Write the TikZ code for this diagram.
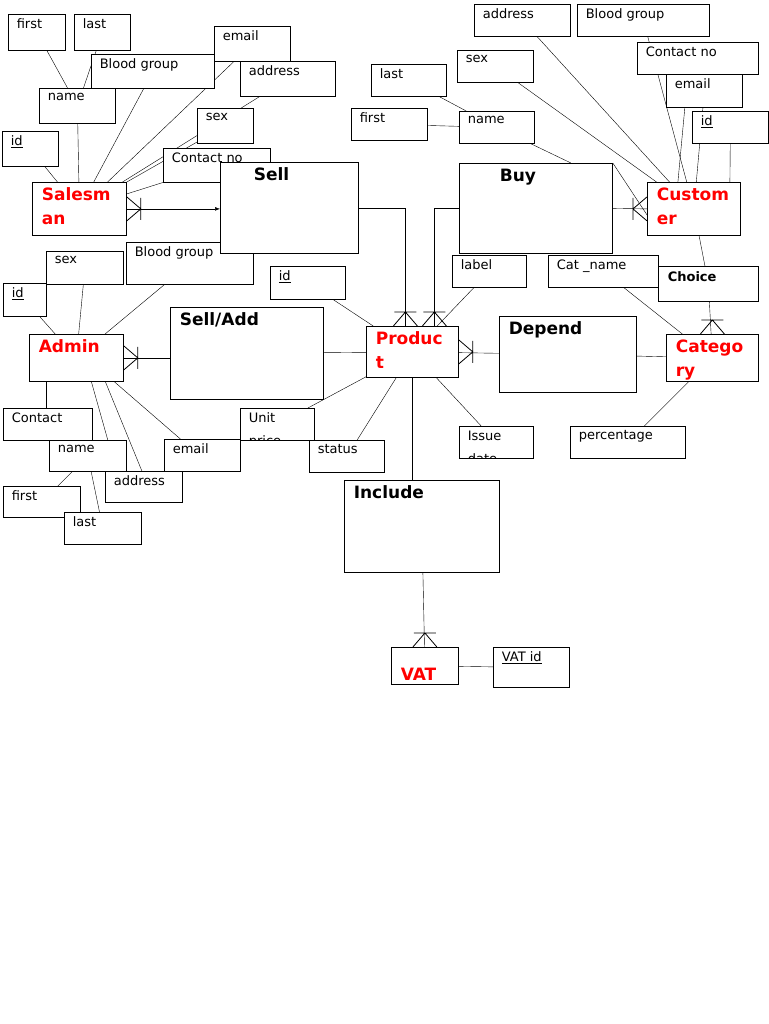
\documentclass[tikz,border=0pt]{standalone}
\usepackage{fontspec}
\setmainfont{DejaVu Sans}
\usetikzlibrary{arrows.meta,positioning,calc,backgrounds}

\newcommand{\crowfoot}[2]{%
  \draw[line width=0.8pt, shift={(#1)}, rotate=#2] (0,-12) -- (14,0) -- (0,12) (14,-11) -- (14,11);}

\begin{document}
\begin{tikzpicture}[
  x=1pt, y=-1pt,
  box/.style={draw, fill=white, anchor=north west, inner sep=0pt, line width=0.8pt},
  intext/.style={anchor=north west, inner sep=0pt, minimum width=0pt, minimum height=0pt,
    draw=none, fill=none, align=left},
  attr/.style={box, path picture={\node[intext, font=\fontsize{13}{23}\selectfont]
      at ([xshift=8pt,yshift=-4pt]path picture bounding box.north west) {#1};}},
  ent/.style={box, path picture={\node[intext, text=red, font=\fontsize{17}{24}\selectfont\bfseries]
      at ([xshift=9pt,yshift=-5pt]path picture bounding box.north west) {#1};}},
  rel/.style={box, path picture={\node[intext, font=\fontsize{17}{20}\selectfont\bfseries]
      at ([xshift=9pt,yshift=-5pt]path picture bounding box.north west) {#1};}},
  line/.style={line width=0.8pt}
]
\useasboundingbox (0,0) rectangle (768,1024);

% Salesman and attributes
\node[attr=first, minimum width=57, minimum height=36] (sfirst) at (8,14) {};
\node[attr=last, minimum width=56, minimum height=36] (slast) at (74,14) {};
\node[attr=email, minimum width=76, minimum height=35] (semail) at (214,26) {};
\node[attr=Blood group, minimum width=123, minimum height=34] (sblood) at (91,54) {};
\node[attr=address, minimum width=95, minimum height=35] (saddr) at (240,61) {};
\node[attr=name, minimum width=76, minimum height=35] (sname) at (39,88) {};
\node[attr=sex, minimum width=56, minimum height=35] (ssex) at (197,108) {};
\node[attr=\underline{id}, minimum width=56, minimum height=35] (sid) at (2,131) {};
\node[attr=Contact no, minimum width=107, minimum height=34] (scontact) at (163,148) {};
\node[ent={Salesm\\an}, minimum width=94, minimum height=53] (sal) at (32,182) {};

% Admin and attributes
\node[attr=sex, minimum width=77, minimum height=33] (asex) at (46,251) {};
\node[attr=Blood group, minimum width=127, minimum height=42] (ablood) at (126,242) {};
\node[rel={\hspace{24pt}Sell}, minimum width=138, minimum height=91] (sell) at (220,162) {};
\node[attr=\underline{id}, minimum width=43, minimum height=33] (aid) at (3,283) {};
\node[ent=Admin, minimum width=94, minimum height=47] (adm) at (29,334) {};
\node[rel=Sell/Add, minimum width=153, minimum height=92] (selladd) at (170,307) {};
\node[attr=Contact, minimum width=89, minimum height=32] (acontact) at (3,408) {};
\node[attr=name, minimum width=77, minimum height=31] (aname) at (49,440) {};
\node[attr=email, minimum width=76, minimum height=32] (aemail) at (164,439) {};
\node[attr={Unit\\price}, minimum width=74, minimum height=32] (unit) at (240,408) {};
\node[attr=status, minimum width=75, minimum height=32] (status) at (309,440) {};
\node[attr=address, minimum width=77, minimum height=31] (aaddr) at (105,471) {};
\node[attr=first, minimum width=77, minimum height=31] (afirst) at (3,486) {};
\node[attr=last, minimum width=77, minimum height=32] (alast) at (64,512) {};

% Product
\node[attr=\underline{id}, minimum width=75, minimum height=33] (pid) at (270,266) {};
\node[ent={Produc\\t}, minimum width=92, minimum height=51] (prod) at (366,326) {};
\node[attr=label, minimum width=74, minimum height=32] (plabel) at (452,255) {};
\node[attr={Issue\\date}, minimum width=74, minimum height=32] (issue) at (459,426) {};
\node[rel=Include, minimum width=155, minimum height=92] (incl) at (344,480) {};
\node[ent={\\[4pt]VAT}, minimum width=67, minimum height=37] (vat) at (391,647) {};
\node[attr=\underline{VAT id}, minimum width=76, minimum height=40] (vatid) at (493,647) {};

% Customer and attributes
\node[attr=address, minimum width=96, minimum height=32] (caddr) at (474,4) {};
\node[attr=Blood group, minimum width=132, minimum height=32] (cblood) at (577,4) {};
\node[attr=sex, minimum width=76, minimum height=32] (csex) at (457,50) {};
\node[attr=Contact no, minimum width=121, minimum height=32] (ccontact) at (637,42) {};
\node[attr=last, minimum width=75, minimum height=32] (clast) at (371,64) {};
\node[attr=email, minimum width=76, minimum height=33] (cemail) at (666,74) {};
\node[attr=first, minimum width=76, minimum height=32] (cfirst) at (351,108) {};
\node[attr=name, minimum width=75, minimum height=32] (cname) at (459,111) {};
\node[attr=\underline{id}, minimum width=76, minimum height=32] (cid) at (692,111) {};
\node[rel={\hspace{31pt}Buy}, minimum width=153, minimum height=90] (buy) at (459,163) {};
\node[ent={Custom\\er}, minimum width=93, minimum height=53] (cust) at (647,182) {};

% Category
\node[attr=Cat \_name, minimum width=110, minimum height=32] (catname) at (548,255) {};
\node[box, minimum width=100, minimum height=35, path picture={\node[intext,
    font=\fontsize{13}{16}\selectfont\bfseries] at ([xshift=9pt,yshift=-5pt]path picture bounding box.north west) {Choice};}]
  (choice) at (658,266) {};
\node[rel=Depend, minimum width=137, minimum height=76] (depend) at (499,316) {};
\node[ent={Catego\\ry}, minimum width=92, minimum height=47] (cat) at (666,334) {};
\node[attr=percentage, minimum width=115, minimum height=32] (perc) at (570,426) {};

% Connectors
\begin{scope}[on background layer, line]
\draw (sfirst) -- (sname);
\draw (slast) -- (sname);
\draw (sname) -- (sal);
\draw (sid) -- (sal);
\draw (sblood) -- (sal);
\draw (semail) -- (sal);
\draw (saddr) -- (sal);
\draw (ssex) -- (sal);
\draw (scontact) -- (sal);
\draw[-Latex] (sal.east) -- (sal.east -| sell.west);
\draw (sell.east) -| ([xshift=-7pt]prod.north);
\draw (buy.west) -| ([xshift=22pt]prod.north);
\draw (buy.east) -- (cust.west);
\draw (buy.north east) -- ([yshift=-6pt]cust.west);
\draw (cname) -- ([xshift=35pt]buy.north);
\draw (cfirst) -- (cname);
\draw (clast) -- (cname);
\draw (caddr) -- (cust);
\draw (cblood) -- (cust);
\draw (csex) -- (cust);
\draw ([xshift=-10pt]ccontact.south) -- ([xshift=-16pt]cust.north);
\draw (cemail) -- (cust);
\draw (cid) -- ([xshift=36pt]cust.north);
\draw (cust) -- (choice);
\draw (choice) -- (cat);
\draw (catname) -- (cat);
\draw (perc) -- (cat);
\draw (prod) -- (depend);
\draw (depend) -- (cat);
\draw (prod.south) -- (prod.south |- incl.north);
\draw (incl) -- (vat);
\draw (vat) -- (vatid);
\draw (pid) -- (prod);
\draw (plabel) -- (prod);
\draw (issue) -- (prod);
\draw (status) -- (prod);
\draw (unit) -- (prod);
\draw (selladd) -- (prod);
\draw (adm.east) -- (adm.east -| selladd.west);
\draw (aid) -- (adm);
\draw (asex) -- (adm);
\draw (ablood) -- (adm);
\draw ([xshift=-30pt]adm.south) -- ([xshift=-30pt]adm.south |- acontact.north);
\draw ([xshift=15pt]adm.south) -- ([xshift=-19pt]aname.north east);
\draw ([xshift=29pt]adm.south) -- ([xshift=-2pt]aaddr.north);
\draw ([xshift=38pt]adm.south) -- ([xshift=-22pt]aemail.north);
\draw (aname) -- (afirst);
\draw (aname) -- (alast);
\end{scope}

% Cardinality marks
\crowfoot{sal.east}{0}
\crowfoot{adm.east}{0}
\crowfoot{prod.east}{0}
\crowfoot{cust.west}{180}
\crowfoot{$(prod.north)+(-7,0)$}{90}
\crowfoot{$(prod.north)+(22,0)$}{90}
\crowfoot{cat.north}{90}
\crowfoot{vat.north}{90}

\end{tikzpicture}
\end{document}
